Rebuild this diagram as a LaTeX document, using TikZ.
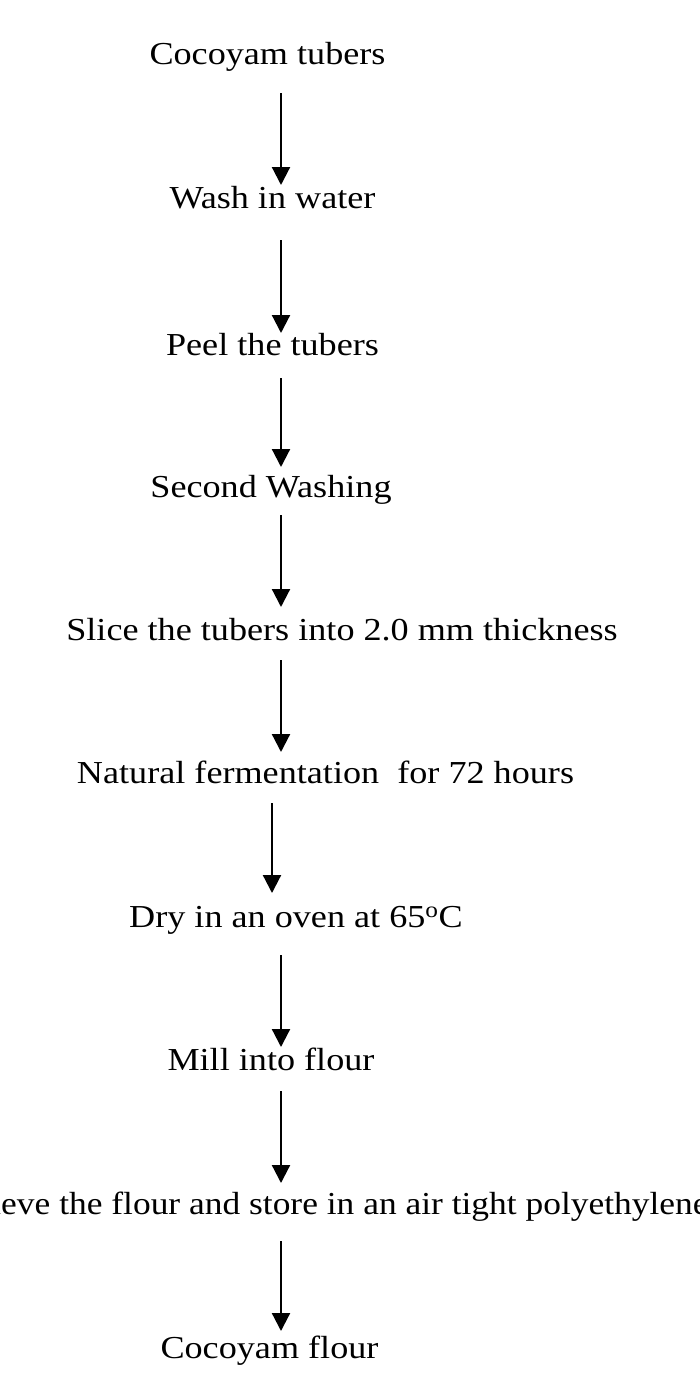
\documentclass[tikz,border=0pt]{standalone}
\usepackage{fontspec}
\setmainfont{Liberation Serif}
\usepackage{graphicx}
\usetikzlibrary{arrows.meta}
\tikzset{
  steptext/.style={anchor=base, inner sep=0pt, font=\fontsize{32}{38}\selectfont},
  flow/.style={line width=2.2pt, -{Triangle[width=18pt,length=18pt]}}
}
\newcommand{\wtext}[1]{\scalebox{1.13}[1]{#1}}
\begin{document}
\begin{tikzpicture}[x=1pt,y=-1pt]
\useasboundingbox (0,0) rectangle (699,1381);
\node[steptext] (n1) at (267.5,65) {\wtext{Cocoyam tubers}};
\node[steptext] (n2) at (272.5,208) {\wtext{Wash in water}};
\node[steptext] (n3) at (272.5,355) {\wtext{Peel the tubers}};
\node[steptext] (n4) at (271,497) {\wtext{Second Washing}};
\node[steptext] (n5) at (342,640) {\wtext{Slice the tubers into 2.0 mm thickness}};
\node[steptext] (n6) at (325.5,783) {\wtext{Natural fermentation\ \ for 72 hours}};
\node[steptext] (n7) at (296,927) {\wtext{Dry in an oven at 65\textsuperscript{o}C}};
\node[steptext] (n8) at (271,1070) {\wtext{Mill into flour}};
\node[steptext, anchor=base west] (n9) at (-28.5,1214) {\scalebox{1.107}[1]{Sieve the flour and store in an air tight polyethylene}};
\node[steptext] (n10) at (269.5,1358) {\wtext{Cocoyam flour}};
% arrow end points
\coordinate (a1s) at (281,93);   \coordinate (a1e) at (281,185);
\coordinate (a2s) at (281,240);  \coordinate (a2e) at (281,333);
\coordinate (a3s) at (281,378);  \coordinate (a3e) at (281,467);
\coordinate (a4s) at (281,515);  \coordinate (a4e) at (281,607);
\coordinate (a5s) at (281,660);  \coordinate (a5e) at (281,752);
\coordinate (a6s) at (272,803);  \coordinate (a6e) at (272,893);
\coordinate (a7s) at (281,955);  \coordinate (a7e) at (281,1047);
\coordinate (a8s) at (281,1091); \coordinate (a8e) at (281,1183);
\coordinate (a9s) at (281,1241); \coordinate (a9e) at (281,1331);
\draw[flow] (a1s) -- (a1e);
\draw[flow] (a2s) -- (a2e);
\draw[flow] (a3s) -- (a3e);
\draw[flow] (a4s) -- (a4e);
\draw[flow] (a5s) -- (a5e);
\draw[flow] (a6s) -- (a6e);
\draw[flow] (a7s) -- (a7e);
\draw[flow] (a8s) -- (a8e);
\draw[flow] (a9s) -- (a9e);
\end{tikzpicture}
\end{document}
